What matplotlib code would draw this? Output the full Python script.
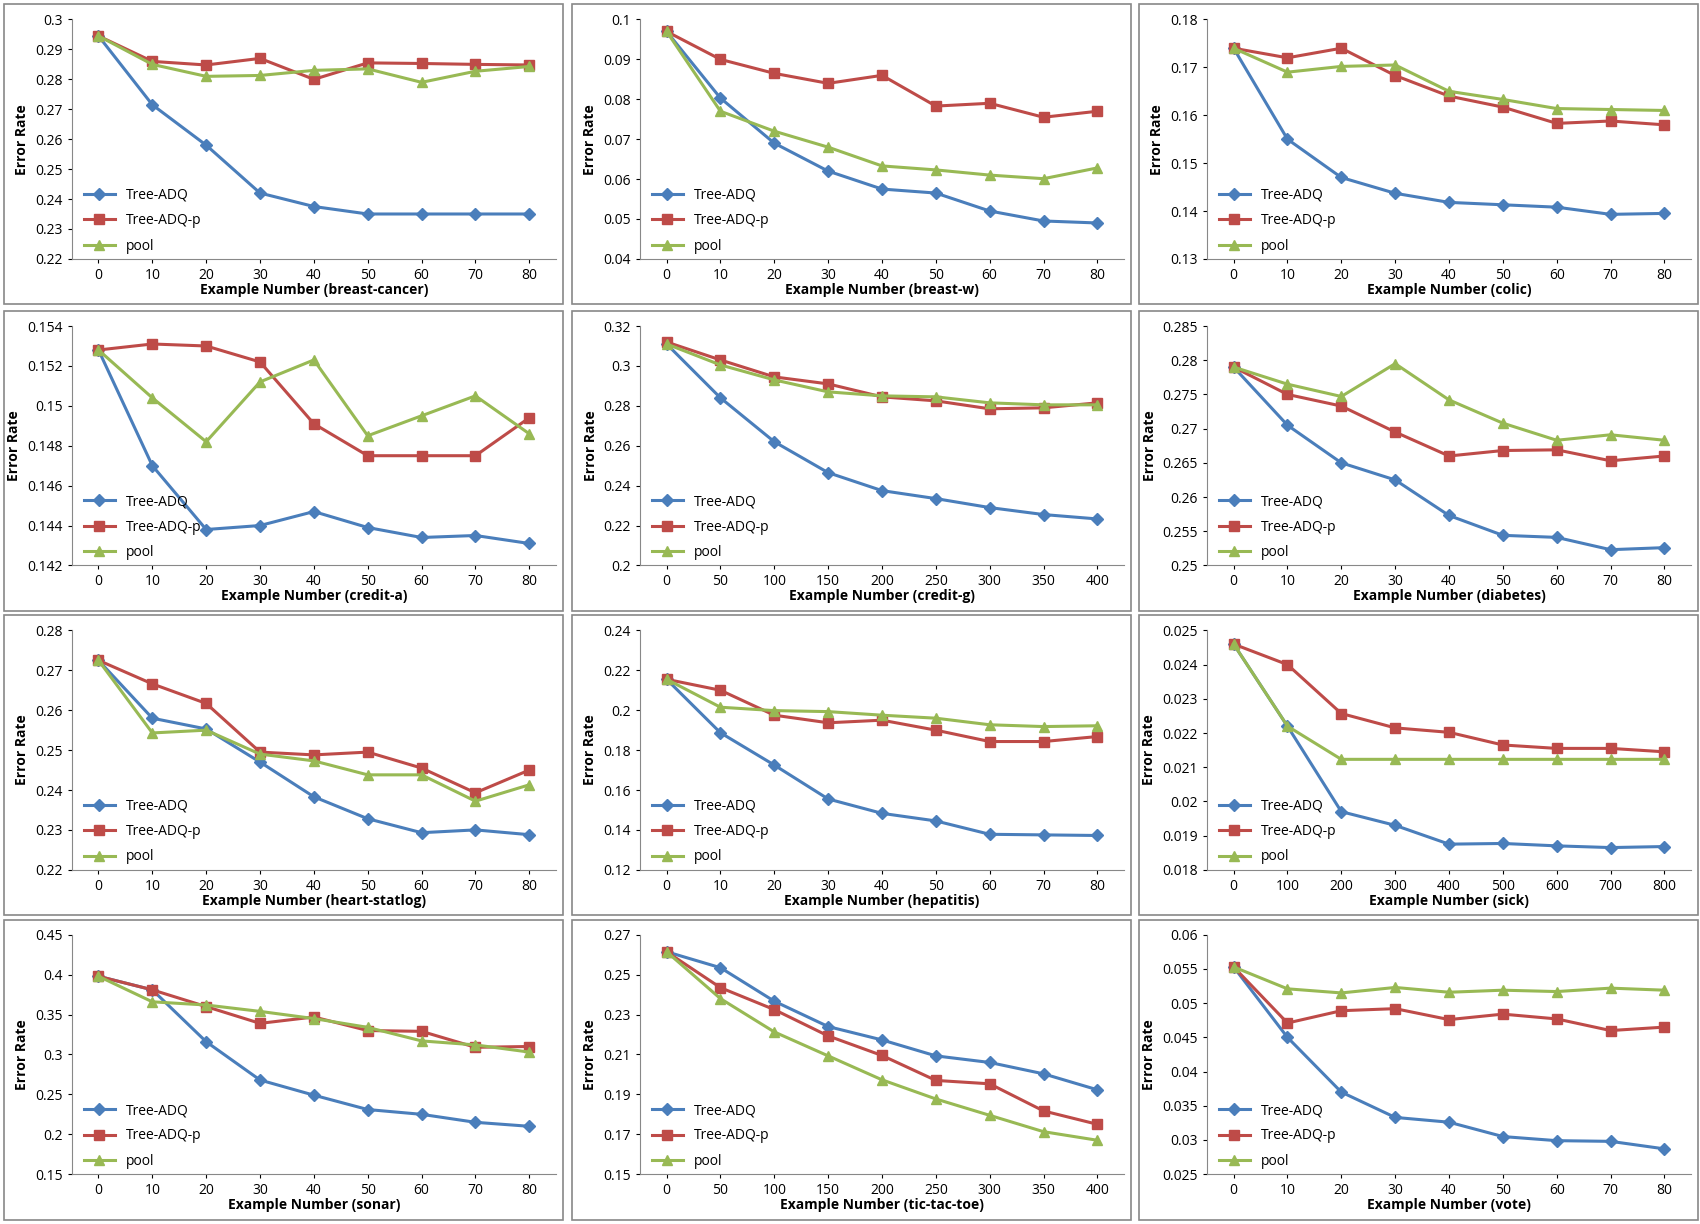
import matplotlib.pyplot as plt
from matplotlib.patches import Rectangle
from matplotlib.ticker import FuncFormatter

plt.rcParams['font.family'] = ['Open Sans', 'DejaVu Sans']

series_names = ["Tree-ADQ", "Tree-ADQ-p", "pool"]
colors = ["#4A7EBB", "#BE4B48", "#98B954"]
markers = ["D", "s", "^"]

x_small = [0, 10, 20, 30, 40, 50, 60, 70, 80]
x_400 = [0, 50, 100, 150, 200, 250, 300, 350, 400]
x_800 = [0, 100, 200, 300, 400, 500, 600, 700, 800]

breast_cancer = [
    [.2945, .2715, .258, .242, .2375, .235, .235, .235, .235],
    [.2945, .286, .2848, .287, .280, .2855, .2853, .285, .2848],
    [.2945, .285, .281, .2813, .283, .2835, .279, .2827, .2843],
]
breast_w = [
    [.097, .0803, .069, .062, .0575, .0565, .052, .0495, .049],
    [.097, .090, .0865, .084, .086, .0783, .079, .0755, .077],
    [.097, .077, .072, .068, .0633, .0623, .061, .0601, .0628],
]
colic = [
    [.174, .155, .147, .1437, .1418, .1413, .1408, .1393, .1395],
    [.174, .172, .174, .1683, .164, .1617, .1583, .1588, .158],
    [.174, .169, .1702, .1705, .165, .1633, .1614, .1612, .161],
]
credit_a = [
    [.1528, .1470, .1438, .1440, .1447, .1439, .1434, .1435, .1431],
    [.1528, .1531, .1530, .1522, .1491, .1475, .1475, .1475, .1494],
    [.1528, .1504, .1482, .1512, .1523, .1485, .1495, .1505, .1486],
]
credit_g = [
    [.311, .284, .262, .2465, .2375, .2335, .229, .2255, .2233],
    [.312, .303, .2945, .291, .2845, .2825, .2785, .279, .2815],
    [.311, .3005, .293, .287, .285, .2845, .2815, .2805, .2805],
]
diabetes = [
    [.279, .2705, .265, .2625, .2573, .2544, .2541, .2523, .2526],
    [.279, .275, .2733, .2695, .266, .2668, .2669, .2653, .266],
    [.279, .2765, .2747, .2795, .2742, .2708, .2683, .2691, .2683],
]
heart_statlog = [
    [.2725, .258, .2553, .247, .2383, .2328, .2293, .2300, .2288],
    [.2725, .2666, .2617, .2495, .2488, .2495, .2455, .2393, .2450],
    [.2725, .2543, .2550, .2490, .2473, .2438, .2438, .2372, .2413],
]
hepatitis = [
    [.2155, .1887, .1725, .1555, .1483, .1445, .1378, .1375, .1372],
    [.2155, .210, .1975, .1937, .195, .19, .1843, .1843, .1868],
    [.2155, .2015, .1998, .1993, .1975, .196, .1927, .1918, .1922],
]
sick = [
    [.0246, .0222, .0197, .0193, .01875, .01877, .0187, .01865, .01868],
    [.0246, .0240, .02257, .02215, .02202, .02165, .02155, .02155, .02145],
    [.0246, .0222, .02123, .02123, .02123, .02123, .02123, .02123, .02123],
]
sonar = [
    [.398, .381, .316, .268, .249, .231, .225, .215, .21],
    [.398, .381, .36, .339, .347, .33, .329, .309, .31],
    [.398, .366, .362, .354, .345, .334, .317, .312, .303],
]
tic_tac_toe = [
    [.2615, .2535, .2367, .2240, .2173, .2093, .2060, .2003, .1923],
    [.2615, .2435, .2325, .2193, .2095, .1970, .1953, .1817, .1750],
    [.2615, .2380, .2213, .2093, .1973, .1877, .1795, .1713, .1670],
]
vote = [
    [.0553, .045, .037, .0333, .0326, .0305, .0299, .0298, .0287],
    [.0553, .0471, .0489, .0492, .0476, .0484, .0477, .046, .0465],
    [.0553, .0521, .0515, .0523, .0516, .0519, .0517, .0522, .0519],
]

# (name, x labels, data, ymin, ymax, ystep)
panels = [
    ("breast-cancer", x_small, breast_cancer, .22, .30, .01),
    ("breast-w", x_small, breast_w, .04, .10, .01),
    ("colic", x_small, colic, .13, .18, .01),
    ("credit-a", x_small, credit_a, .142, .154, .002),
    ("credit-g", x_400, credit_g, .20, .32, .02),
    ("diabetes", x_small, diabetes, .25, .285, .005),
    ("heart-statlog", x_small, heart_statlog, .22, .28, .01),
    ("hepatitis", x_small, hepatitis, .12, .24, .02),
    ("sick", x_800, sick, .018, .025, .001),
    ("sonar", x_small, sonar, .15, .45, .05),
    ("tic-tac-toe", x_400, tic_tac_toe, .15, .27, .02),
    ("vote", x_small, vote, .025, .06, .005),
]

W, H = 1568.0, 1130.0
col_x = [4, 528, 1051]
row_y = [4, 287, 568, 849]
pw, ph = 515, 277

fig = plt.figure(figsize=(17, 12.24), dpi=100)

for i, (name, xlabels, data, ymin, ymax, ystep) in enumerate(panels):
    r, c = divmod(i, 3)
    px, py = col_x[c], row_y[r]
    fig.add_artist(Rectangle((px / W, 1 - (py + ph) / H), pw / W, ph / H,
                             transform=fig.transFigure, fill=False,
                             edgecolor="#888888", linewidth=1.2))
    left = px + 62
    right = px + pw - 6
    top = py + 14
    bottom = py + ph - 42
    ax = fig.add_axes([left / W, 1 - bottom / H, (right - left) / W, (bottom - top) / H])
    pos = list(range(len(xlabels)))
    for vals, nm, col, mk in zip(data, series_names, colors, markers):
        ax.plot(pos, vals, color=col, marker=mk, markersize=6.5, linewidth=2.2, label=nm)
    ax.set_xlim(-0.5, len(xlabels) - 0.5)
    ax.set_ylim(ymin, ymax)
    n = int(round((ymax - ymin) / ystep))
    ax.set_yticks([ymin + k * ystep for k in range(n + 1)])
    ax.yaxis.set_major_formatter(FuncFormatter(lambda v, p: f"{round(v, 4):g}"))
    ax.set_xticks(pos)
    ax.set_xticklabels([str(v) for v in xlabels])
    ax.tick_params(labelsize=10, length=3)
    ax.spines["top"].set_visible(False)
    ax.spines["right"].set_visible(False)
    ax.spines["left"].set_color("#888888")
    ax.spines["bottom"].set_color("#888888")
    ax.set_xlabel(f"Example Number ({name})", fontsize=10, fontweight="bold", labelpad=0)
    ax.set_ylabel("Error Rate", fontsize=10, fontweight="bold")
    ax.legend(loc="lower left", frameon=False, fontsize=10, labelspacing=0.75,
              handlelength=2.2, bbox_to_anchor=(0.0, -0.03))

fig.savefig("out.png", dpi=100)
